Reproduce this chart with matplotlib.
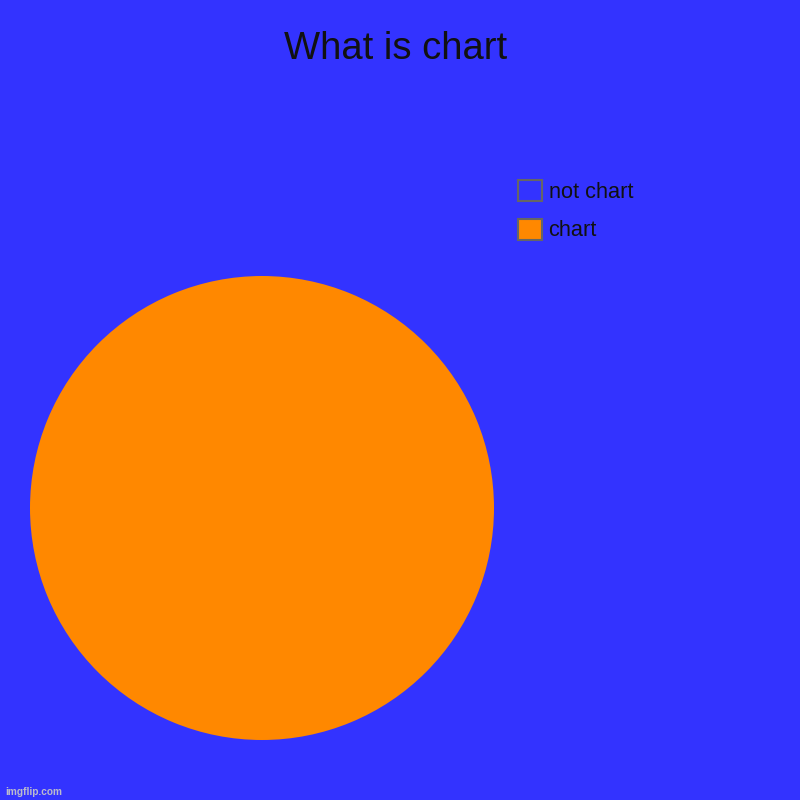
import matplotlib.pyplot as plt
from matplotlib.patches import Patch

plt.rcParams['font.family'] = ['Liberation Sans', 'DejaVu Sans']

# data
labels = ['chart', 'not chart']
values = [100, 0]
colors = ['#FF8800', '#3333FF']
title = 'What is chart'

bg = '#3333FF'

fig = plt.figure(figsize=(8, 8), dpi=100, facecolor=bg)
ax = fig.add_axes([30 / 800, 60 / 800, 464 / 800, 464 / 800])
ax.set_facecolor(bg)

ax.pie(values, colors=colors, startangle=90, counterclock=False, radius=1,
       wedgeprops={'linewidth': 0})
ax.set_xlim(-1, 1)
ax.set_ylim(-1, 1)
ax.set_aspect('equal')
ax.axis('off')

fig.text(0.494, 1 - 49 / 800, title, ha='center', va='center',
         fontsize=27.5, color='#111111')

# legend, reversed order like the original
handles = [Patch(facecolor=c, edgecolor='#666666', linewidth=1.5) for c in colors]
fig.legend(handles[::-1], labels[::-1], loc='upper left',
           bbox_to_anchor=(518 / 800, 1 - 180 / 800), frameon=False,
           fontsize=15.7, labelcolor='#111111', borderpad=0, borderaxespad=0,
           handlelength=1.1, handleheight=1.1, handletextpad=0.3,
           labelspacing=0.72)

fig.text(5 / 800, 1 - 795 / 800, 'imgflip.com', fontsize=7.3, color='#BBBBCC',
         fontweight='bold', ha='left', va='baseline')

fig.savefig('out.png', dpi=100, facecolor=bg)
